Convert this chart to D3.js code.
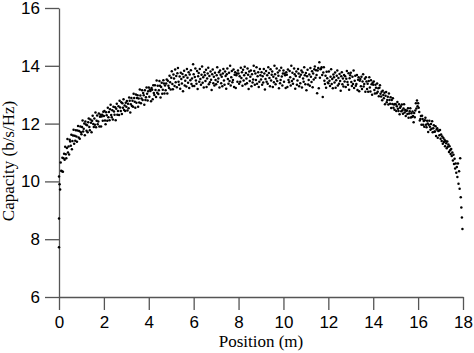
<!DOCTYPE html>
<html>
<head>
<meta charset="utf-8">
<script src="https://cdn.jsdelivr.net/npm/d3@7"></script>
<style>
  body { margin: 0; background: #fff; }
  svg { display: block; }
</style>
</head>
<body>
<svg id="drawing_region"></svg>
<script>
// capacity (b/s/Hz), one row of 40 samples per metre
const posStep = 0.025;
const capacity = [
  // 0 m
  10.17, 9.90, 9.72, 10.65, 10.37, 10.35, 10.82, 10.33, 10.80, 10.96,
  10.75, 11.20, 10.94, 10.80, 11.16, 11.47, 11.00, 11.21, 10.93, 11.44,
  11.38, 11.23, 11.61, 11.11, 11.40, 11.59, 11.79, 11.30, 11.58, 11.41,
  11.77, 11.55, 11.37, 11.76, 11.92, 11.52, 11.74, 11.48, 11.90, 11.70,
  // 1 m
  11.63, 11.88, 12.11, 11.73, 11.82, 12.00, 11.60, 12.07, 11.97, 11.75,
  11.94, 11.70, 12.05, 12.18, 11.88, 11.77, 12.14, 12.03, 11.70, 12.10,
  12.27, 11.99, 11.88, 12.18, 11.96, 12.38, 11.87, 12.10, 12.28, 11.98,
  12.07, 12.35, 11.90, 12.24, 12.31, 11.90, 12.25, 12.31, 12.10, 12.41,
  // 2 m
  12.26, 12.44, 12.11, 11.98, 12.39, 12.29, 12.10, 12.55, 12.22, 12.40,
  12.12, 12.50, 12.65, 12.30, 12.22, 12.46, 12.14, 12.58, 12.42, 12.31,
  12.57, 12.12, 12.51, 12.69, 12.31, 12.44, 12.60, 12.30, 12.79, 12.56,
  12.44, 12.74, 12.33, 12.70, 12.55, 12.84, 12.47, 12.63, 12.44, 12.72,
  // 3 m
  12.58, 12.78, 12.45, 12.69, 12.53, 12.90, 12.79, 12.38, 12.67, 12.89,
  12.61, 12.79, 12.58, 13.03, 12.89, 12.76, 12.55, 13.01, 12.72, 12.89,
  12.98, 12.58, 12.87, 12.73, 13.18, 12.97, 12.70, 12.87, 13.15, 12.82,
  13.06, 12.98, 12.65, 13.15, 12.82, 12.91, 13.25, 13.03, 12.80, 13.12,
  // 4 m
  13.25, 12.93, 13.18, 13.13, 12.77, 13.23, 13.17, 12.84, 13.33, 13.06,
  12.99, 13.33, 13.16, 12.92, 13.49, 13.07, 13.31, 13.02, 13.15, 13.47,
  13.31, 12.90, 13.27, 13.41, 13.03, 13.17, 13.50, 13.39, 13.04, 13.32,
  13.15, 13.39, 13.53, 13.04, 13.48, 13.31, 13.23, 13.66, 13.43, 13.18,
  // 5 m
  13.59, 13.81, 13.37, 13.19, 13.70, 13.56, 13.30, 13.87, 13.43, 13.65,
  13.26, 13.74, 13.92, 13.45, 13.34, 13.63, 13.21, 13.76, 13.54, 13.39,
  13.72, 13.12, 13.61, 13.83, 13.32, 13.48, 13.67, 13.28, 13.89, 13.59,
  13.41, 13.78, 13.23, 13.70, 13.50, 13.85, 13.37, 13.56, 13.30, 14.05,
  // 6 m
  13.71, 13.30, 13.61, 13.91, 13.49, 13.38, 13.82, 13.20, 13.64, 13.75,
  13.45, 13.89, 13.54, 13.34, 13.69, 13.98, 13.41, 13.60, 13.25, 13.78,
  13.67, 13.47, 13.86, 13.27, 13.56, 13.73, 13.93, 13.36, 13.65, 13.43,
  13.80, 13.52, 13.16, 13.71, 13.87, 13.40, 13.62, 13.32, 13.76, 13.51,
  // 7 m
  13.36, 13.67, 13.95, 13.45, 13.56, 13.78, 13.25, 13.84, 13.69, 13.40,
  13.62, 13.29, 13.73, 13.89, 13.49, 13.34, 13.80, 13.65, 13.21, 13.71,
  13.91, 13.54, 13.38, 13.76, 13.47, 14.00, 13.32, 13.60, 13.82, 13.43,
  13.51, 13.87, 13.27, 13.69, 13.78, 13.23, 13.67, 13.73, 13.45, 13.84,
  // 8 m
  13.73, 13.38, 13.64, 13.45, 13.93, 13.58, 13.78, 13.31, 13.86, 13.49,
  13.67, 13.97, 13.36, 13.75, 13.56, 13.40, 13.91, 13.69, 13.20, 13.80,
  13.47, 13.62, 13.84, 13.29, 13.71, 13.42, 13.53, 14.00, 13.82, 13.34,
  13.73, 13.51, 13.95, 13.38, 13.64, 13.78, 13.27, 13.45, 13.89, 13.67,
  // 9 m
  13.53, 13.78, 13.34, 13.64, 13.42, 13.89, 13.73, 13.18, 13.54, 13.82,
  13.45, 13.67, 13.38, 13.95, 13.75, 13.58, 13.29, 13.88, 13.49, 13.69,
  13.80, 13.27, 13.62, 13.43, 14.00, 13.71, 13.36, 13.56, 13.91, 13.47,
  13.77, 13.66, 13.22, 13.84, 13.40, 13.51, 13.93, 13.63, 13.32, 13.73,
  // 10 m
  13.84, 13.45, 13.73, 13.67, 13.23, 13.78, 13.69, 13.27, 13.87, 13.51,
  13.43, 13.82, 13.60, 13.32, 14.00, 13.47, 13.76, 13.38, 13.54, 13.91,
  13.71, 13.21, 13.65, 13.80, 13.34, 13.49, 13.89, 13.73, 13.29, 13.62,
  13.40, 13.69, 13.84, 13.25, 13.78, 13.56, 13.45, 13.95, 13.67, 13.36,
  // 11 m
  13.75, 13.15, 13.64, 13.86, 13.35, 13.51, 13.70, 13.31, 13.92, 13.62,
  13.44, 13.81, 13.26, 13.73, 13.53, 13.88, 13.98, 13.59, 13.85, 13.68,
  13.05, 13.84, 13.92, 13.22, 14.12, 13.59, 13.88, 13.90, 13.95, 13.68,
  12.92, 13.77, 13.95, 13.48, 13.37, 13.66, 13.24, 13.79, 13.57, 13.42,
  // 12 m
  13.40, 13.80, 13.48, 13.30, 13.62, 13.88, 13.37, 13.54, 13.22, 13.70,
  13.60, 13.42, 13.77, 13.24, 13.50, 13.66, 13.84, 13.32, 13.58, 13.38,
  13.72, 13.47, 13.14, 13.64, 13.78, 13.36, 13.56, 13.28, 13.68, 13.46,
  13.64, 13.27, 13.55, 13.82, 13.44, 13.34, 13.74, 13.17, 13.57, 13.67,
  // 13 m
  13.76, 13.44, 13.30, 13.62, 13.37, 13.84, 13.23, 13.48, 13.66, 13.31,
  13.37, 13.68, 13.16, 13.52, 13.60, 13.12, 13.48, 13.54, 13.29, 13.62,
  13.20, 13.46, 13.71, 13.28, 13.37, 13.55, 13.10, 13.60, 13.46, 13.20,
  13.38, 13.10, 13.47, 13.60, 13.25, 13.11, 13.50, 13.36, 13.00, 13.41,
  // 14 m
  13.34, 13.46, 13.16, 13.04, 13.34, 13.24, 13.05, 13.39, 13.10, 13.22,
  12.95, 13.24, 13.33, 13.03, 12.94, 13.10, 12.81, 13.14, 12.99, 12.88,
  13.07, 12.67, 12.96, 13.09, 12.74, 12.82, 12.93, 12.66, 13.04, 12.82,
  12.69, 12.91, 12.54, 12.82, 12.68, 12.88, 12.55, 12.66, 12.48, 12.68,
  // 15 m
  12.67, 12.44, 12.60, 12.75, 12.51, 12.44, 12.67, 12.32, 12.55, 12.60,
  12.43, 12.66, 12.46, 12.34, 12.52, 12.67, 12.38, 12.47, 12.26, 12.44,
  12.45, 12.33, 12.53, 12.20, 12.35, 12.43, 12.53, 12.21, 12.36, 12.23,
  12.42, 12.26, 12.05, 12.37, 12.22, 12.45, 12.70, 12.52, 12.80, 12.60,
  // 16 m
  12.70, 12.55, 12.40, 12.11, 12.16, 12.26, 11.96, 12.27, 12.16, 11.96,
  12.09, 11.89, 12.12, 12.20, 11.96, 11.87, 12.10, 12.00, 11.71, 11.96,
  12.10, 11.89, 11.79, 11.99, 11.82, 12.08, 11.70, 11.84, 11.94, 11.72,
  11.73, 11.91, 11.57, 11.80, 11.84, 11.51, 11.74, 11.76, 11.60, 11.78,
  // 17 m
  11.48, 11.62, 11.40, 11.55, 11.30, 11.50, 11.36, 11.44, 11.22, 11.40,
  11.32, 11.15, 11.38, 11.20, 11.28, 11.02, 11.22, 11.08, 10.95, 11.12,
  10.88, 11.00, 10.72, 10.92, 10.60, 10.78, 10.45, 10.62, 10.30, 10.50,
  10.15, 10.62, 9.92, 10.35, 9.75, 10.80, 9.45, 9.10, 8.75, 8.35
];

// two low readings right at the start position
const edgePos = [0, 0];
const edgeCap = [8.72, 7.72];

const xTicks = [0, 2, 4, 6, 8, 10, 12, 14, 16, 18];
const yTicks = [6, 8, 10, 12, 14, 16];

const data = capacity.map((c, i) => ({ x: i * posStep, y: c }))
    .concat(edgePos.map((p, i) => ({ x: p, y: edgeCap[i] })));

class ScatterPlot {

    constructor( config, data ) {
        this.config = config;
        this.data = data;
        this.init();
    }

    init() {
        let self = this;

        self.svg = d3.select( self.config.parent )
            .attr('width', self.config.width)
            .attr('height', self.config.height);

        self.xscale = d3.scaleLinear()
            .domain([0, 18])
            .range([59, 463]);

        self.yscale = d3.scaleLinear()
            .domain([6, 16])
            .range([297, 8]);

        self.xaxis = d3.axisBottom( self.xscale )
            .tickValues( xTicks )
            .tickSize(13)
            .tickSizeOuter(0)
            .tickPadding(6);

        self.yaxis = d3.axisLeft( self.yscale )
            .tickValues( yTicks )
            .tickSize(14)
            .tickSizeOuter(0)
            .tickPadding(5);

        self.xaxis_group = self.svg.append('g')
            .attr('transform', `translate(0, ${self.yscale(6)})`);

        self.yaxis_group = self.svg.append('g')
            .attr('transform', `translate(${self.xscale(0)}, 0)`);

        self.dots = self.svg.append('g');
    }

    render() {
        let self = this;

        self.xaxis_group.call( self.xaxis );
        self.yaxis_group.call( self.yaxis );

        self.svg.selectAll('.domain, .tick line')
            .attr('stroke', '#555')
            .attr('stroke-width', 1.3);

        self.svg.selectAll('.tick text')
            .attr('fill', '#000')
            .style('font-family', '"Liberation Sans", Arial, sans-serif')
            .style('font-size', '17px');

        self.dots.selectAll('circle')
            .data( self.data )
            .join('circle')
            .attr('cx', d => self.xscale(d.x))
            .attr('cy', d => self.yscale(d.y))
            .attr('r', 1.25)
            .attr('fill', '#000');

        // axis titles
        self.svg.append('text')
            .attr('x', (self.xscale(0) + self.xscale(18)) / 2)
            .attr('y', 347)
            .attr('text-anchor', 'middle')
            .style('font-family', '"Liberation Serif", "Times New Roman", serif')
            .style('font-size', '17px')
            .text('Position (m)');

        self.svg.append('text')
            .attr('transform', `translate(14, 161) rotate(-90)`)
            .attr('text-anchor', 'middle')
            .style('font-family', '"Liberation Serif", "Times New Roman", serif')
            .style('font-size', '17px')
            .text('Capacity (b/s/Hz)');
    }
}

const plot = new ScatterPlot({
    parent: '#drawing_region',
    width: 474,
    height: 353
}, data);
plot.render();
</script>
</body>
</html>
